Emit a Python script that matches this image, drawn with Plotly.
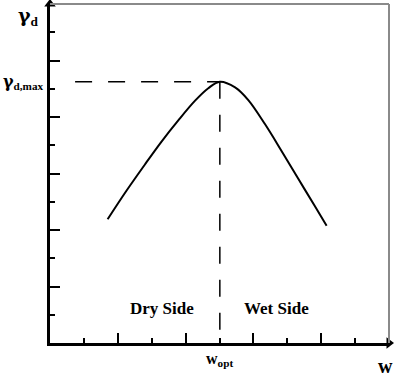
import plotly.graph_objects as go

# Compaction curve (w in axis units, gamma_d in axis units)
w_vals = [1.70, 2.25, 2.80, 3.29, 3.79, 4.28, 4.67, 5.01, 5.46, 5.85, 6.34, 6.83, 7.32, 7.82, 8.16]
gd_vals = [4.38, 5.38, 6.32, 7.13, 7.89, 8.58, 9.02, 9.25, 9.05, 8.60, 7.75, 6.80, 5.82, 4.83, 4.15]
w_opt = 5.01
gd_max = 9.25
dash_start = 0.74
x_max = 10
y_max = 12

FONT = "Liberation Serif"
G = "<span style='font-family:DejaVu Serif'>γ</span>"

fig = go.Figure()
fig.add_trace(go.Scatter(x=w_vals, y=gd_vals, mode="lines", line=dict(color="black", width=2, shape="spline", smoothing=1.0),
                         hoverinfo="skip", showlegend=False))
fig.add_trace(go.Scatter(x=[dash_start, w_opt], y=[gd_max, gd_max], mode="lines",
                         line=dict(color="black", width=1.5, dash="17px,16px"), showlegend=False, hoverinfo="skip"))
fig.add_trace(go.Scatter(x=[w_opt, w_opt], y=[gd_max, 0], mode="lines",
                         line=dict(color="black", width=1.5, dash="17px,16px"), showlegend=False, hoverinfo="skip"))
# arrowheads at the axis ends
fig.add_trace(go.Scatter(x=[0], y=[y_max], mode="markers", cliponaxis=False,
                         marker=dict(symbol="triangle-up", size=10, color="black"), showlegend=False, hoverinfo="skip"))
fig.add_trace(go.Scatter(x=[x_max], y=[0], mode="markers", cliponaxis=False,
                         marker=dict(symbol="triangle-right", size=10, color="black"), showlegend=False, hoverinfo="skip"))

axis_common = dict(showgrid=False, zeroline=False, showticklabels=False, showline=True,
                   linecolor="black", ticks="inside", ticklen=10, tickwidth=2, tickcolor="black",
                   tick0=0, dtick=2,
                   minor=dict(ticks="inside", ticklen=5, tickwidth=2, tickcolor="black", dtick=1, tick0=0))
fig.update_xaxes(range=[0, x_max], linewidth=2.5, **axis_common)
fig.update_yaxes(range=[0, y_max], linewidth=2.5, **axis_common)

# frame top and right (gray)
fig.add_shape(type="line", xref="paper", yref="paper", x0=0, x1=1, y0=1, y1=1, line=dict(color="#8a8a8a", width=2))
fig.add_shape(type="line", xref="paper", yref="paper", x0=1, x1=1, y0=0, y1=1, line=dict(color="#8a8a8a", width=2))

def lab(text, x, y, size, xanchor="center", xref="paper", yref="paper"):
    fig.add_annotation(text=text, x=x, y=y, xref=xref, yref=yref, showarrow=False,
                       xanchor=xanchor, yanchor="middle", font=dict(family=FONT, size=size, color="black"))

W, H = 398, 381
def px(xp):
    return (xp - 50) / (389 - 50)
def py(yp):
    return (343 - yp) / (343 - 4)

lab("<b>" + G + "<sub>d</sub></b>", px(28), py(16), 19)
lab("<b>" + G + "<sub>d,max</sub></b>", px(45), gd_max, 16, xanchor="right", yref="y")
lab("<b>w<sub>opt</sub></b>", w_opt, py(359), 16, xref="x")
lab("<b>w</b>", px(385), py(366), 20)
lab("<b>Dry Side</b>", px(162), py(308), 17)
lab("<b>Wet Side</b>", px(276), py(308), 17)

fig.update_layout(width=W, height=H, margin=dict(l=50, r=9, t=4, b=38),
                  plot_bgcolor="white", paper_bgcolor="white", showlegend=False)
fig.write_html("out.html", config={"displayModeBar": False},
               post_script="document.body.style.margin='0';document.body.style.overflow='hidden';")
